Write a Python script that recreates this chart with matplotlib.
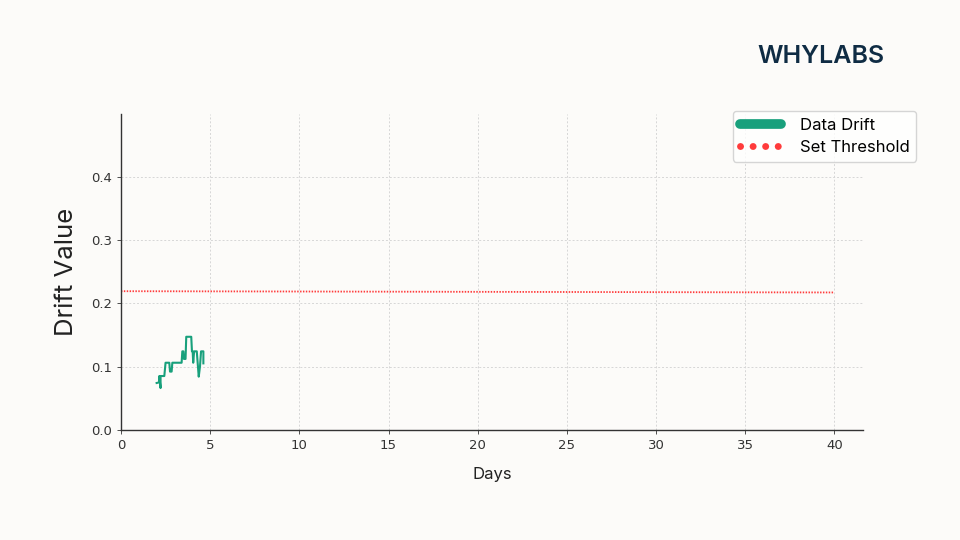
import matplotlib
matplotlib.use("Agg")
import matplotlib.pyplot as plt
from matplotlib.lines import Line2D

# Drift values (day, drift)
days = [2.0, 2.15, 2.15, 2.22, 2.22, 2.43, 2.5, 2.71, 2.75, 2.84, 2.88, 3.4, 3.44,
        3.5, 3.53, 3.62, 3.66, 3.94, 3.98, 4.02, 4.05, 4.1, 4.25, 4.36, 4.43, 4.49,
        4.62, 4.62]
drift = [0.074, 0.075, 0.085, 0.066, 0.085, 0.085, 0.106, 0.106, 0.092, 0.092,
         0.106, 0.106, 0.124, 0.124, 0.112, 0.112, 0.147, 0.147, 0.124, 0.124,
         0.106, 0.124, 0.124, 0.084, 0.100, 0.124, 0.124, 0.105]

thr_days = [0, 40]
thr_vals = [0.219, 0.217]

xticks = [0, 5, 10, 15, 20, 25, 30, 35, 40]
yticks = [0.0, 0.1, 0.2, 0.3, 0.4]

GREEN = "#18a07c"
RED = "#ff3b3b"
BG = "#fcfbf9"
LABEL_FONT = ["Inter", "DejaVu Sans"]

fig = plt.figure(figsize=(9.6, 5.4), dpi=100, facecolor=BG)
ax = fig.add_axes([0.126, 0.204, 0.773, 0.585], facecolor=BG)

ax.plot(days, drift, color=GREEN, linewidth=1.5)
ax.plot(thr_days, thr_vals, color=RED, linewidth=1.3, linestyle=(0, (0.8, 0.8)))

ax.set_xlim(0, 41.6)
ax.set_ylim(0, 0.499)
ax.set_xticks(xticks)
ax.set_yticks(yticks)
ax.set_yticklabels([f"{v:.1f}" for v in yticks])
ax.tick_params(labelsize=9.5, colors="#333333", length=3, width=0.6)

for side in ("top", "right"):
    ax.spines[side].set_visible(False)
for side in ("left", "bottom"):
    ax.spines[side].set_color("#333333")
    ax.spines[side].set_linewidth(1.0)

ax.grid(True, linestyle=(0, (2, 2)), color="#d6d6d6", linewidth=0.7)
ax.set_axisbelow(True)

ax.set_xlabel("Days", fontsize=12, family=LABEL_FONT, color="#222222", labelpad=11)
ax.set_ylabel("Drift Value", fontsize=18.5, family=LABEL_FONT, color="#222222", labelpad=9)

handles = [
    Line2D([0], [0], color=GREEN, linewidth=7, solid_capstyle="round"),
    Line2D([0], [0], color=RED, linewidth=5, linestyle=(0, (0.01, 1.8)),
           dash_capstyle="round"),
]
leg = fig.legend(handles, ["Data Drift", "Set Threshold"], loc="upper right",
                 bbox_to_anchor=(0.963, 0.81),
                 prop={"family": LABEL_FONT, "size": 12}, frameon=True,
                 handlelength=2.5, handletextpad=1.1, borderpad=0.4,
                 labelspacing=0.45)
leg.get_frame().set_edgecolor("#cccccc")
leg.get_frame().set_facecolor("white")

fig.text(0.855, 0.895, "WHYLABS", fontsize=18, fontweight="semibold",
         family=["Inter", "DejaVu Sans"], color="#0f2c44", ha="center", va="center")

fig.savefig("out.png", dpi=100, facecolor=BG)
